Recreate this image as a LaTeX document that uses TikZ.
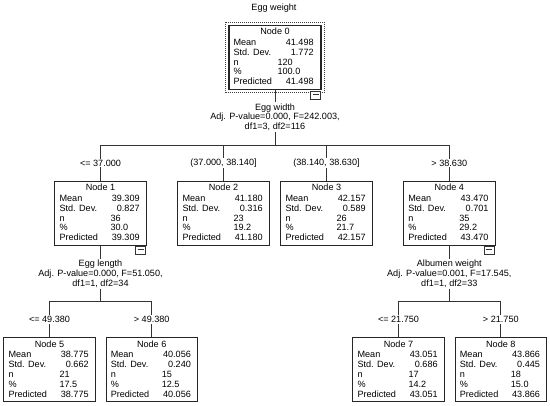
\documentclass[tikz,border=0pt]{standalone}
\usepackage{fontspec}
\setmainfont{Liberation Sans}
\usepackage{tikz}
\usetikzlibrary{calc}

% column of the n and % values, measured from the box's left edge
\newcommand{\ncol}{56}
% name, centre x, top y, number, mean, std. dev., n, %, predicted
\newcommand{\statnode}[9]{%
  \node[nodebox] (#1) at (#2,#3) {};
  \node[anchor=base, inner sep=0pt] (#1-title) at ($(#1.north)+(0,9.8)$) {Node #4};
  \node[statlabel] (#1-meanl) at ($(#1.north west)+(5,20.5)$) {Mean};
  \node[statvalue] (#1-mean) at ($(#1.north west)+(85.5,20.5)$) {#5};
  \node[statlabel] (#1-sdl) at ($(#1.north west)+(5,30.2)$) {Std. Dev.};
  \node[statvalue] (#1-sd) at ($(#1.north west)+(85.5,30.2)$) {#6};
  \node[statlabel] (#1-nl) at ($(#1.north west)+(5,40.1)$) {n};
  \node[statlabel] (#1-n) at ($(#1.north west)+(\ncol,40.1)$) {#7};
  \node[statlabel] (#1-pctl) at ($(#1.north west)+(5,49.8)$) {\%};
  \node[statlabel] (#1-pct) at ($(#1.north west)+(\ncol,49.8)$) {#8};
  \node[statlabel] (#1-predl) at ($(#1.north west)+(5,59.8)$) {Predicted};
  \node[statvalue] (#1-pred) at ($(#1.north west)+(85.5,59.8)$) {#9};
}
\newcommand{\collapsemark}[1]{%
  \draw[collapse] ($(#1.south east)+(-11,1)$) rectangle ($(#1.south east)+(-1,9)$);
  \draw[collapse] ($(#1.south east)+(-9,4)$) -- ($(#1.south east)+(-3,4)$);
}

\begin{document}
\begin{tikzpicture}[x=1pt, y=-1pt,
    every node/.style={font=\fontsize{9.1}{9.8}\selectfont},
    nodebox/.style={draw=black!85, line width=0.75pt, minimum width=91.5pt, minimum height=64pt, inner sep=0pt, anchor=north},
    statlabel/.style={anchor=base west, inner sep=0pt},
    statvalue/.style={anchor=base east, inner sep=0pt},
    splitinfo/.style={align=center, inner sep=1pt, anchor=north},
    edgelabel/.style={fill=white, inner sep=1pt},
    treeline/.style={draw=black!80, line width=0.75pt},
    collapse/.style={draw=black!80, line width=0.6pt, fill=white},
    rootframe/.style={draw=black!75, densely dotted, line width=1pt}]
  \path[use as bounding box, fill=white] (0,0) rectangle (550,406);

  \node[anchor=base] (title) at (274,10.3) {Egg weight};

  \begin{scope}[nodebox/.append style={line width=1.3pt, minimum width=92pt}]
    \renewcommand{\ncol}{49}
    \statnode{n0}{275}{25}{0}{41.498}{1.772}{120}{100.0}{41.498}
  \end{scope}
  \draw[rootframe] ($(n0.north west)+(-2.5,-2.5)$) rectangle ($(n0.south east)+(2.5,2.5)$);

  \statnode{n1}{100.5}{181}{1}{39.309}{0.827}{36}{30.0}{39.309}
  \statnode{n2}{223.5}{181}{2}{41.180}{0.316}{23}{19.2}{41.180}
  \statnode{n3}{326.5}{181}{3}{42.157}{0.589}{26}{21.7}{42.157}
  \statnode{n4}{449.3}{181}{4}{43.470}{0.701}{35}{29.2}{43.470}

  \statnode{n5}{49.5}{337.5}{5}{38.775}{0.662}{21}{17.5}{38.775}
  \statnode{n6}{151.7}{337.5}{6}{40.056}{0.240}{15}{12.5}{40.056}
  \statnode{n7}{398.5}{337.5}{7}{43.051}{0.686}{17}{14.2}{43.051}
  \statnode{n8}{500.8}{337.5}{8}{43.866}{0.445}{18}{15.0}{43.866}

  % split on egg width
  \node[splitinfo] (s0) at (275,102.3) {Egg width\\Adj. P-value=0.000, F=242.003,\\df1=3, df2=116};
  \coordinate (h0) at (275,145);
  \draw[treeline] (n0.south) -- (s0.north);
  \draw[treeline] (s0.south) -- (h0);
  \draw[treeline] (h0) -| node[edgelabel, pos=0.75] {<= 37.000} (n1.north);
  \draw[treeline] (h0) -| node[edgelabel, pos=0.75] {(37.000, 38.140]} (n2.north);
  \draw[treeline] (h0) -| node[edgelabel, pos=0.75] {(38.140, 38.630]} (n3.north);
  \draw[treeline] (h0) -| node[edgelabel, pos=0.75] {> 38.630} (n4.north);

  % split on egg length
  \node[splitinfo] (s1) at (100.5,258.9) {Egg length\\Adj. P-value=0.000, F=51.050,\\df1=1, df2=34};
  \coordinate (h1) at (100.5,301.7);
  \draw[treeline] (n1.south) -- (s1.north);
  \draw[treeline] (s1.south) -- (h1);
  \draw[treeline] (h1) -| node[edgelabel, pos=0.75] {<= 49.380} (n5.north);
  \draw[treeline] (h1) -| node[edgelabel, pos=0.75] {> 49.380} (n6.north);

  % split on albumen weight
  \node[splitinfo] (s4) at (449.3,258.9) {Albumen weight\\Adj. P-value=0.001, F=17.545,\\df1=1, df2=33};
  \coordinate (h4) at (449.3,301.7);
  \draw[treeline] (n4.south) -- (s4.north);
  \draw[treeline] (s4.south) -- (h4);
  \draw[treeline] (h4) -| node[edgelabel, pos=0.75] {<= 21.750} (n7.north);
  \draw[treeline] (h4) -| node[edgelabel, pos=0.75] {> 21.750} (n8.north);

  \collapsemark{n0}
  \collapsemark{n1}
  \collapsemark{n4}
\end{tikzpicture}
\end{document}
